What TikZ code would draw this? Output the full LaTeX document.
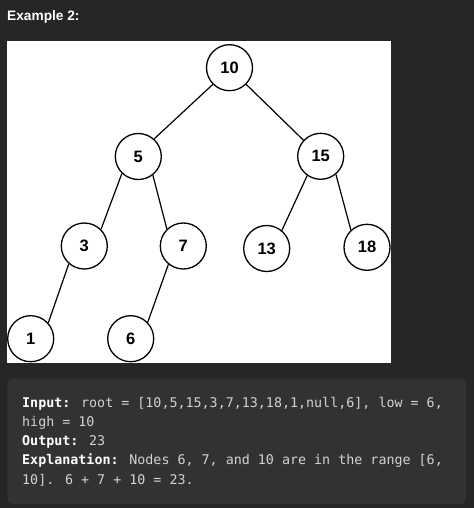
\documentclass[tikz,border=0pt]{standalone}
\usepackage{fontspec}
\setmainfont{Liberation Sans}
\newfontfamily\codefont{DejaVu Sans Mono}
\definecolor{bg}{HTML}{262626}
\definecolor{codebg}{HTML}{323232}
\definecolor{codetxt}{HTML}{D2D2D2}
\begin{document}
\begin{tikzpicture}[x=1pt,y=-1pt,
  tnode/.style={circle, draw=black, line width=1.3pt, fill=white, minimum size=46pt, inner sep=0pt,
                font=\bfseries\fontsize{16.5}{19}\selectfont},
  edge/.style={draw=black, line width=1.2pt},
  codeline/.style={anchor=base west, inner sep=0pt, text=codetxt, font=\codefont\fontsize{13.35}{16}\selectfont},
  lbl/.style={text=white}]
\fill[bg] (0,0) rectangle (474,508);
\useasboundingbox (0,0) rectangle (474,508);
\node[anchor=base west, inner sep=0pt, text=white, font=\bfseries\fontsize{13.7}{16}\selectfont] (title) at (7,20.5) {Example 2:};
\fill[white] (6.8,41) rectangle (390.8,362.5);
% tree
\node[tnode] (n10) at (229.5,67.7) {10};
\node[tnode] (n5)  at (138.3,156.5) {5};
\node[tnode] (n15) at (320.7,156.3) {15};
\node[tnode] (n3)  at (84.3,246) {3};
\node[tnode] (n7)  at (183.3,246) {7};
\node[tnode] (n13) at (266.7,248.5) {13};
\node[tnode] (n18) at (367,247.3) {18};
\node[tnode] (n1)  at (30.7,338.7) {1};
\node[tnode] (n6)  at (130.7,338.7) {6};
\draw[edge] (n10.225) -- (n5.48);
\draw[edge] (n10.315) -- (n15.137);
\draw[edge] (n5.226) -- (n3.45);
\draw[edge] (n5.308) -- (n7.134);
\draw[edge] (n15.235) -- (n13.50);
\draw[edge] (n15.310) -- (n18.133);
\draw[edge] (n3.229) -- (n1.42);
\draw[edge] (n7.231) -- (n6.44);
% code box
\fill[codebg, rounded corners=6pt] (7.3,378.3) rectangle (466,504);
\node[codeline] (l1) at (22,407.3) {\textcolor{white}{\bfseries Input:} root = [10,5,15,3,7,13,18,1,null,6], low = 6,};
\node[codeline] (l2) at (22,426.5) {high = 10};
\node[codeline] (l3) at (22,445.7) {\textcolor{white}{\bfseries Output:} 23};
\node[codeline] (l4) at (22,464.9) {\textcolor{white}{\bfseries Explanation:} Nodes 6, 7, and 10 are in the range [6,};
\node[codeline] (l5) at (22,484.1) {10]. 6 + 7 + 10 = 23.};
\end{tikzpicture}
\end{document}
